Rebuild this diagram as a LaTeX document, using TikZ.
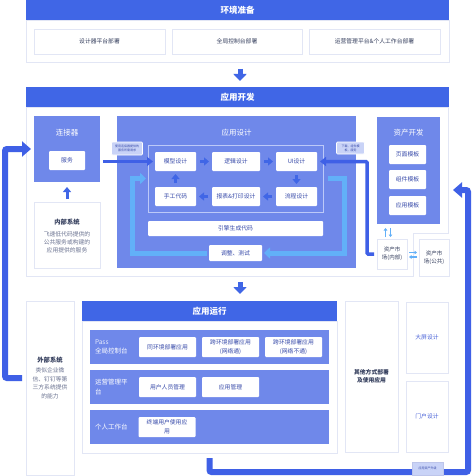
\documentclass[tikz,border=0pt]{standalone}
\usepackage{fontspec}
\setmainfont{Noto Sans CJK SC}
\usetikzlibrary{arrows.meta}
\definecolor{hdr}{HTML}{4066E6}
\definecolor{mid}{HTML}{6F88EA}
\definecolor{bord}{HTML}{E2E6F5}
\definecolor{txt}{HTML}{333D5C}
\definecolor{gtxt}{HTML}{6A7290}
\definecolor{btxt}{HTML}{3548A8}
\definecolor{lblue}{HTML}{62B0F8}
\definecolor{dblue}{HTML}{3F60E6}
\definecolor{labf}{HTML}{C9D3F7}
\definecolor{frm}{HTML}{BCC9F8}
\definecolor{ttxt}{HTML}{4A63D8}
\begin{document}
\begin{tikzpicture}[x=1pt,y=-1pt,
  every node/.style={inner sep=0pt, outer sep=0pt, align=center},
  hdrbox/.style={fill=hdr, text=white, font=\fontsize{8.5}{10}\selectfont\bfseries, minimum height=20pt},
  panel/.style={fill=white, draw=bord, line width=0.8pt},
  wbox/.style={fill=white, draw=bord, line width=0.6pt, text=txt, font=\fontsize{5.8}{8.5}\selectfont},
  midbox/.style={fill=mid},
  ibox/.style={fill=white, text=btxt, font=\fontsize{5.8}{8.5}\selectfont, rounded corners=1pt},
  ttl/.style={text=white, font=\fontsize{7.5}{9}\selectfont},
  rowlbl/.style={anchor=west, align=left, text=white, font=\fontsize{6.5}{9.5}\selectfont},
  lab/.style={fill=labf, draw=white, line width=0.7pt, text=btxt, font=\fontsize{3}{3.8}\selectfont, rounded corners=1pt},
  sarr/.style={draw=hdr, line width=3pt, -{Triangle[width=8pt,length=5pt]}, shorten <=4pt, shorten >=3pt},
  fatdown/.style={draw=hdr, line width=5pt, -{Triangle[width=13pt,length=7pt]}},
  lb/.style={draw=lblue, line width=5pt, -{Triangle[width=11pt,length=6pt]}},
  darr/.style={draw=dblue, line width=3.5pt, -{Triangle[width=9pt,length=6pt]}},
  big/.style={draw=dblue, line width=6pt, -{Triangle[width=15pt,length=9pt]}, rounded corners=2pt},
  tinyarr/.style={draw=lblue, line width=1.2pt, -{Triangle[width=3.5pt,length=2.5pt]}}
]
\useasboundingbox (0,0) rectangle (474,476);
\fill[white] (0,0) rectangle (474,476);

% ===== 环境准备 =====
\node[panel, minimum width=423pt, minimum height=42pt] (b1) at (237.5,41) {};
\node[hdrbox, minimum width=423pt] (h1) at (237.5,10) {环境准备};
\node[wbox, minimum width=131pt, minimum height=25pt] (e1) at (99.5,41.5) {设计器平台部署};
\node[wbox, minimum width=130pt, minimum height=25pt] (e2) at (237,41.5) {全局控制台部署};
\node[wbox, minimum width=131pt, minimum height=25pt] (e3) at (374.5,41.5) {运营管理平台\&个人工作台部署};

% ===== 应用开发 =====
\draw[panel] (26,107) -- (448,107) -- (448,233) -- (413,233) -- (413,276) -- (26,276) -- cycle;
\coordinate (b2s) at (240,276);
\coordinate (b2r) at (448,190);
\node[hdrbox, minimum width=423pt] (h2) at (237.5,97) {应用开发};
\draw[fatdown] ([yshift=-7pt]b1.south -| h2.north) ++(2.5,0) -- ([xshift=2.5pt,yshift=6pt]h2.north);

% connector
\node[midbox, minimum width=66pt, minimum height=66pt] (conn) at (67,149) {};
\node[ttl] (connT) at (67,133) {连接器};
\node[ibox, minimum width=36pt, minimum height=19pt] (svc) at (67,160.5) {服务};
\node[wbox, minimum width=66pt, minimum height=66pt] (inner) at (67,235) {};
\node[text=txt, font=\fontsize{6.3}{8}\selectfont\bfseries] (innerT) at (67,222) {内部系统};
\node[text=gtxt, font=\fontsize{5.8}{8}\selectfont] (innerD) at (67,242) {飞速低代码提供的\\公共服务或构建的\\应用提供的服务};
\draw[sarr, shorten <=3pt, shorten >=5pt] (inner.north) -- (conn.south);

% application design
\node[midbox, minimum width=239pt, minimum height=152pt] (design) at (236.5,192) {};
\node[ttl] (designT) at (236.5,133) {应用设计};
\node[draw=frm, line width=0.6pt, minimum width=175pt, minimum height=67pt] (fr) at (235.5,178.5) {};
\node[ibox, minimum width=41pt, minimum height=19pt] (m1) at (175.5,161.5) {模型设计};
\node[ibox, minimum width=48pt, minimum height=19pt] (m2) at (236,161.5) {逻辑设计};
\node[ibox, minimum width=41pt, minimum height=19pt] (m3) at (296.5,161.5) {UI设计};
\node[ibox, minimum width=41pt, minimum height=19pt] (m4) at (175.5,196.5) {手工代码};
\node[ibox, minimum width=48pt, minimum height=19pt] (m5) at (236,196.5) {报表\&打印设计};
\node[ibox, minimum width=41pt, minimum height=19pt] (m6) at (296.5,196.5) {流程设计};
\draw[sarr] (m1.east) -- (m2.west);
\draw[sarr] (m2.east) -- (m3.west);
\draw[sarr] (m3.south) -- (m6.north);
\draw[sarr] (m6.west) -- (m5.east);
\draw[sarr] (m5.west) -- (m4.east);
\draw[sarr] (m4.north) -- (m1.south);
\node[ibox, minimum width=175pt, minimum height=15pt] (eng) at (235.5,228.5) {引擎生成代码};
\node[ibox, minimum width=53pt, minimum height=16pt] (tune) at (235.5,253) {调整、测试};
\draw[lb] ([xshift=5pt]fr.east) -- ++(16,0) |- ([xshift=2pt]tune.east);
\draw[lb] ([xshift=-2pt]tune.west) -| ([xshift=-16pt]fr.west) -- ([xshift=-2pt]fr.west);

% asset development
\node[midbox, minimum width=63pt, minimum height=107pt] (asset) at (408.5,170.5) {};
\node[ttl] (assetT) at (408.5,133) {资产开发};
\node[ibox, minimum width=37pt, minimum height=19pt] (a1) at (407.5,154.5) {页面模板};
\node[ibox, minimum width=37pt, minimum height=19pt] (a2) at (407.5,179.5) {组件模板};
\node[ibox, minimum width=37pt, minimum height=19pt] (a3) at (407.5,205.5) {应用模板};
\node[wbox, minimum width=30pt, minimum height=30pt, font=\fontsize{5.5}{8}\selectfont] (mk1) at (392,254) {资产市\\场(内部)};
\node[wbox, minimum width=30pt, minimum height=37pt, font=\fontsize{5.5}{8}\selectfont] (mk2) at (434,257.5) {资产市\\场(公共)};
\draw[tinyarr] ([xshift=-6.5pt,yshift=2pt]mk1.north) -- ++(0,-9);
\draw[tinyarr] ([xshift=-1.5pt,yshift=11pt]mk1.north) -- ++(0,9);
\draw[tinyarr] ([xshift=2pt,yshift=1.5pt]mk1.east) -- ++(8,0);
\draw[tinyarr] ([xshift=10pt,yshift=-3pt]mk1.east) -- ++(-8,0);

% dark arrows with labels
\draw[darr] ([xshift=3pt]conn.east |- m1.west) -- ([xshift=-2pt]m1.west);
\node[lab, minimum width=31pt, minimum height=13pt] (lab1) at (127,148.5) {使用连接器提供的\\服务所需请求};
\draw[darr, rounded corners=1pt] ([xshift=-3pt]mk1.west) -- ++(-7,0) |- ([xshift=3pt]m3.east);
\node[lab, minimum width=28pt, minimum height=12pt] (lab2) at (350.5,148) {下载、组件模\\板、服务};

\draw[fatdown] ([yshift=-6pt]b2s) -- ++(0,12);

% ===== 应用运行 =====
\node[wbox, minimum width=48pt, minimum height=174pt] (ext) at (50,388) {};
\node[text=txt, font=\fontsize{6.3}{8}\selectfont\bfseries] (extT) at (50,360) {外部系统};
\node[text=gtxt, font=\fontsize{5.8}{8.5}\selectfont] (extD) at (50,383.5) {类似企业微\\信、钉钉等第\\三方系统提供\\的能力};

\node[panel, minimum width=255pt, minimum height=132pt] (b3) at (209.5,387) {};
\node[hdrbox, minimum width=255pt] (h3) at (209.5,311) {应用运行};
\node[midbox, minimum width=239pt, minimum height=34pt] (r1) at (209.5,347) {};
\node[midbox, minimum width=239pt, minimum height=34pt] (r2) at (209.5,387) {};
\node[midbox, minimum width=239pt, minimum height=34pt] (r3) at (209.5,427) {};
\node[rowlbl] (r1l) at (95,347) {{\color{white!85!mid}Pass}\\全局控制台};
\node[rowlbl] (r2l) at (95,387) {运营管理平\\台};
\node[rowlbl] (r3l) at (95,427) {个人工作台};
\node[ibox, minimum width=57pt, minimum height=20pt] (p1) at (167.5,347) {同环境部署应用};
\node[ibox, minimum width=57pt, minimum height=20pt] (p2) at (230.5,347) {跨环境部署应用\\(网络通)};
\node[ibox, minimum width=57pt, minimum height=20pt] (p3) at (293.5,347) {跨环境部署应用\\(网络不通)};
\node[ibox, minimum width=57pt, minimum height=20pt] (q1) at (167.5,387) {用户人员管理};
\node[ibox, minimum width=57pt, minimum height=20pt] (q2) at (230.5,387) {应用管理};
\node[ibox, minimum width=57pt, minimum height=20pt] (s1) at (167,427) {终端用户使用应\\用};

\node[wbox, minimum width=53pt, minimum height=151pt, font=\fontsize{5.8}{8.5}\selectfont\bfseries] (other) at (371.5,376.5) {其他方式部署\\及使用应用};
\node[wbox, minimum width=42pt, minimum height=71pt, text=ttxt] (bigs) at (427,337.5) {大屏设计};
\node[wbox, minimum width=42pt, minimum height=71pt, text=ttxt] (portal) at (427,416.5) {门户设计};

% big loop arrows
\draw[big] ([xshift=-4pt,yshift=10pt]ext.west) -- ++(-17,0) |- ([xshift=-3pt]conn.west);
\draw[big] ([yshift=-5pt]b3.south) |- (468,472) -- (468,190) -- ([xshift=5pt]b2r);
\node[fill=labf, draw=white!40!labf!80!btxt, line width=0.6pt, text=btxt, font=\fontsize{3}{3.8}\selectfont, minimum width=31pt, minimum height=13pt] (upg) at (427.5,468.5) {应用资产升级};
\end{tikzpicture}
\end{document}
